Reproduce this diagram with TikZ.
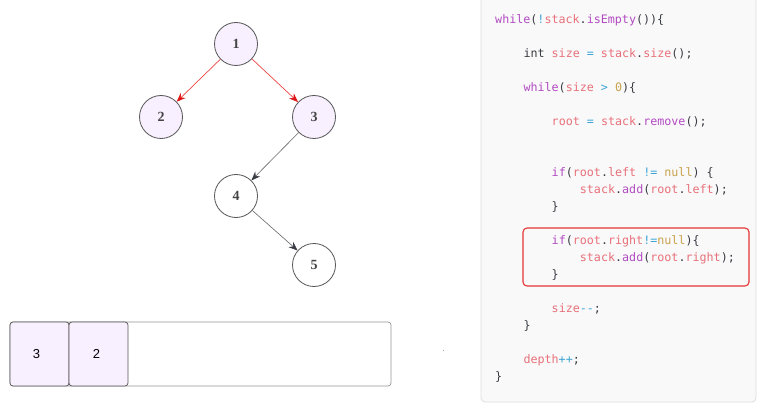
\documentclass[tikz,border=0pt]{standalone}
\usepackage{fontspec}
\setmainfont{Liberation Serif}
\setsansfont{Liberation Sans}
\setmonofont{DejaVu Sans Mono}
\usetikzlibrary{arrows.meta}
\definecolor{lav}{HTML}{F8EFFF}
\definecolor{nstroke}{HTML}{555555}
\definecolor{ntext}{HTML}{444444}
\definecolor{redline}{HTML}{EE4444}
\definecolor{redhead}{HTML}{E01515}
\definecolor{grayline}{HTML}{666666}
\definecolor{panelbg}{HTML}{F9F9F9}
\definecolor{panelbd}{HTML}{DDDDDD}
\definecolor{cpurple}{HTML}{B24BC2}
\definecolor{cpink}{HTML}{E8707A}
\definecolor{cblue}{HTML}{3BA4D6}
\definecolor{cgold}{HTML}{C9A24E}
\definecolor{cdark}{HTML}{3A3C44}
\definecolor{boxred}{HTML}{E53535}
\newcommand{\ckw}[1]{\textcolor{cpurple}{#1}}
\newcommand{\cvr}[1]{\textcolor{cpink}{#1}}
\newcommand{\cop}[1]{\textcolor{cblue}{#1}}
\newcommand{\cnm}[1]{\textcolor{cgold}{#1}}
\tikzset{
  treenode/.style={circle, draw=nstroke, line width=0.8pt, minimum size=43pt, inner sep=0pt,
    font=\fontsize{14}{15}\selectfont\bfseries, text=ntext},
  visited/.style={treenode, fill=lav},
  fresh/.style={treenode, fill=white},
  rededge/.style={draw=redline, line width=0.7pt, -{Stealth[length=9pt,width=7pt,color=redhead]}},
  grayedge/.style={draw=grayline, line width=0.6pt, -{Stealth[length=9pt,width=7pt,color=cdark]}},
  codeline/.style={anchor=base west, inner sep=0pt, text=cdark,
    font=\ttfamily\fontsize{11.7}{14}\selectfont},
  cellbox/.style={draw=nstroke, fill=lav, rounded corners=3pt, line width=0.7pt,
    minimum width=59pt, minimum height=64pt, inner sep=0pt, font=\sffamily\fontsize{13}{14}\selectfont}
}
\begin{document}
\begin{tikzpicture}[x=1pt,y=-1pt]
\useasboundingbox (0,0) rectangle (765,414);
% code panel
\fill[panelbg, rounded corners=4pt] (481,-10) rectangle (756,402);
\draw[panelbd, line width=0.8pt, rounded corners=4pt] (481,-10) -- (481,402) -- (756,402) -- (756,-10);
% tree
\node[visited] (n1) at (236,44) {1};
\node[visited] (n2) at (161,117) {2};
\node[visited] (n3) at (314,117) {3};
\node[fresh] (n4) at (236,196) {4};
\node[fresh] (n5) at (314,265) {5};
\draw[rededge] (n1) -- (n2);
\draw[rededge] (n1) -- (n3);
\draw[grayedge] (n3) -- (n4);
\draw[grayedge] (n4) -- (n5);
% queue/array
\draw[draw=grayline!70, line width=0.7pt, rounded corners=3pt] (10,322) rectangle (391,386);
\node[cellbox] (c1) at (39.5,354) {\hspace*{-6pt}3};
\node[cellbox] (c2) at (98.5,354) {\hspace*{-4pt}2};
% speck
\fill[gray!70] (443.5,350.5) circle (0.6pt);
% highlight box
\draw[boxred, line width=1.1pt, rounded corners=4pt] (523,228) rectangle (749,286);
% code
\node[codeline] (l1) at (495,23.5) {\ckw{while}(\cop{!}\cvr{stack}.\ckw{isEmpty}())\{};
\node[codeline] (l2) at (523.3,57.5) {int \cvr{size} \cop{=} \cvr{stack}.\cvr{size}();};
\node[codeline] (l3) at (523.3,91.5) {\ckw{while}(\cvr{size} \cop{>} \cnm{0})\{};
\node[codeline] (l4) at (551.5,125.5) {\cvr{root} \cop{=} \cvr{stack}.\ckw{remove}();};
\node[codeline] (l5) at (551.5,176.5) {\ckw{if}(\cvr{root}.\cvr{left} \cop{!=} \cnm{null}) \{};
\node[codeline] (l6) at (579.7,193.5) {\cvr{stack}.\ckw{add}(\cvr{root}.\cvr{left});};
\node[codeline] (l7) at (551.5,210.5) {\}};
\node[codeline] (l8) at (551.5,244.5) {\ckw{if}(\cvr{root}.\cvr{right}\cop{!=}\cnm{null})\{};
\node[codeline] (l9) at (579.7,261.5) {\cvr{stack}.\ckw{add}(\cvr{root}.\cvr{right});};
\node[codeline] (l10) at (551.5,278.5) {\}};
\node[codeline] (l11) at (551.5,312.5) {\cvr{size}\cop{-{}-};};
\node[codeline] (l12) at (523.3,329.5) {\}};
\node[codeline] (l13) at (523.3,363.5) {\cvr{depth}\cop{++};};
\node[codeline] (l14) at (495,380.5) {\}};
\end{tikzpicture}
\end{document}
